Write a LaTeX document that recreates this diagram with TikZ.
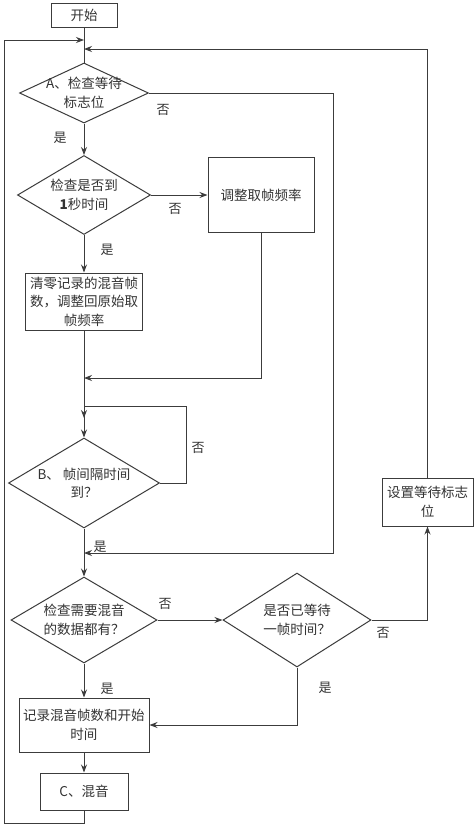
\documentclass[tikz,border=0pt]{standalone}
\usepackage{fontspec}
\setmainfont{Noto Sans CJK SC}
\usetikzlibrary{shapes.geometric,arrows.meta}
\definecolor{lc}{HTML}{3C3C3C}
\definecolor{tc}{HTML}{333333}
\begin{document}
\begin{tikzpicture}[x=1pt,y=-1pt,
 line/.style={draw=lc, line width=1pt},
 arr/.style={line, -{Stealth[length=8pt,width=6pt]}},
 box/.style={draw=lc, line width=1pt, rectangle, inner sep=0pt, align=center, font=\fontsize{13.5}{18.5}\selectfont, text=tc},
 dia/.style={draw=lc, line width=1pt, diamond, inner sep=0pt},
 dlab/.style={font=\fontsize{13.5}{18.5}\selectfont, text=tc, align=center, inner sep=0pt},
 lab/.style={font=\fontsize{13}{15}\selectfont, text=tc, inner sep=0pt}]
\useasboundingbox (0,0) rectangle (474,825);
\fill[white] (0,0) rectangle (474,825);

\node[box, minimum width=66pt, minimum height=24pt] (start) at (84,15) {开始};
\node[dia, minimum width=129pt, minimum height=60pt, label={[dlab]center:{A、检查等待\\标志位}}] (A) at (84,93) {};
\node[dia, minimum width=133pt, minimum height=79pt, label={[dlab]center:{检查是否到\\\textbf{1}秒时间}}] (D2) at (84,195) {};
\node[box, minimum width=106pt, minimum height=75pt] (adj) at (261,195) {调整取帧频率};
\node[box, minimum width=117pt, minimum height=57pt] (clr) at (84,301.5) {清零记录的混音帧\\数，调整回原始取\\帧频率};
\node[dia, minimum width=151pt, minimum height=90pt, label={[dlab]center:{B、 帧间隔时间\\到？}}] (B) at (84,483) {};
\node[dia, minimum width=146pt, minimum height=86pt, label={[dlab]center:{检查需要混音\\的数据都有？}}] (D4) at (84,620) {};
\node[dia, minimum width=148pt, minimum height=94pt, label={[dlab]center:{是否已等待\\一帧时间？}}] (D5) at (297,620) {};
\node[box, minimum width=91pt, minimum height=48pt] (setb) at (427.5,502) {设置等待标志\\位};
\node[box, minimum width=130pt, minimum height=54pt] (rec) at (84,725) {记录混音帧数和开始\\时间};
\node[box, minimum width=88pt, minimum height=37pt] (C) at (84,791.5) {C、混音};

\coordinate (jL) at (84,40);
\coordinate (j0) at (84,49);
\coordinate (j1) at (84,378);
\coordinate (j2) at (84,406);
\coordinate (j2a) at (84,418);
\coordinate (j3) at (84,553);
\coordinate (bl) at (84,823);
\coordinate (blc) at (4,823);
\coordinate (tlc) at (4,40);
\coordinate (lp) at (186,406);
\coordinate (ra) at (333,553);

\draw[line] (start) -- (A.north);
\draw[arr] (A.south) -- (D2.north);
\draw[arr] (D2.east) -- (adj.west);
\draw[arr] (D2.south) -- (clr.north);
\draw[arr] (adj.south) |- (j1);
\draw[arr] (clr.south) -- (B.north);
\draw[line] (B.east) -| (lp) -- (j2);
\draw[arr] (j2) -- (j2a);
\draw[arr] (B.south) -- (D4.north);
\draw[arr] (A.east) -| (ra) -- (j3);
\draw[arr] (D4.east) -- (D5.west);
\draw[arr] (D5.east) -| (setb.south);
\draw[arr] (setb.north) |- (j0);
\draw[arr] (D5.south) |- (rec.east);
\draw[arr] (D4.south) -- (rec.north);
\draw[arr] (rec.south) -- (C.north);
\draw[arr] (C.south) -- (bl) -- (blc) -- (tlc) -- (jL);

\node[lab] (n1) at (163,110) {否};
\node[lab] (y1) at (60,138) {是};
\node[lab] (n2) at (175,209) {否};
\node[lab] (y2) at (107,250) {是};
\node[lab] (n3) at (198,448) {否};
\node[lab] (y3) at (100,547) {是};
\node[lab] (n4) at (165,604) {否};
\node[lab] (n5) at (383,633) {否};
\node[lab] (y5) at (325,688) {是};
\node[lab] (y4) at (107,689) {是};
\end{tikzpicture}
\end{document}
